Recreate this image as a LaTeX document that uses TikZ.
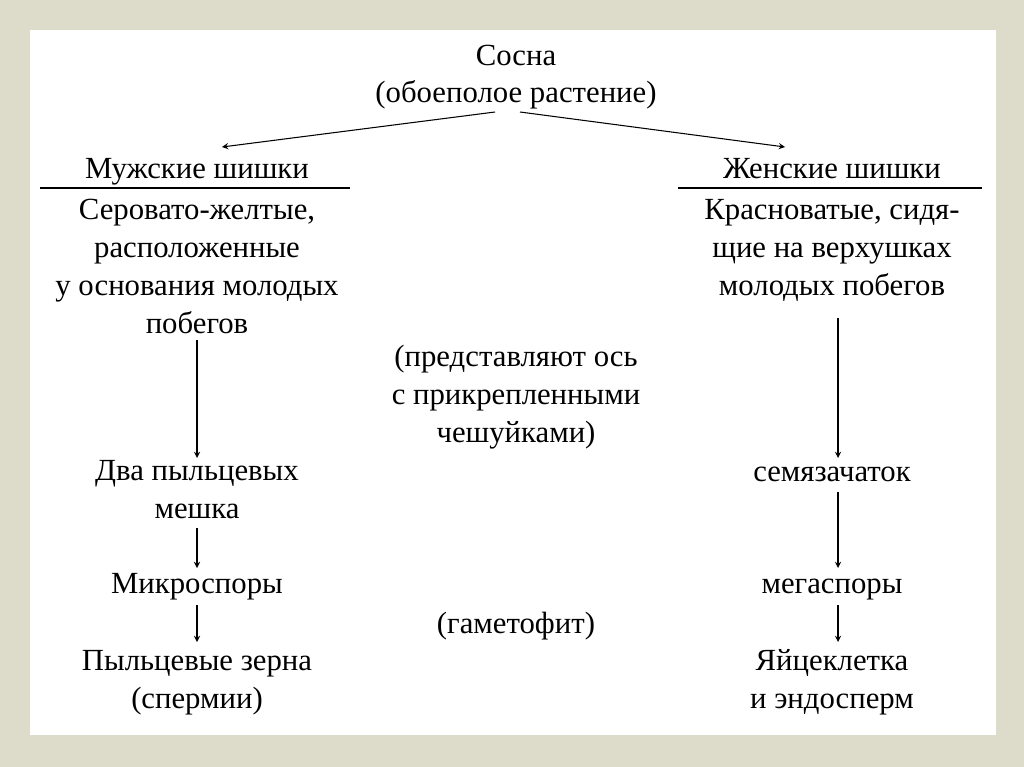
\documentclass[tikz,border=0pt]{standalone}
\usepackage{fontspec}
\setmainfont[FakeStretch=1.0]{Liberation Serif}
\definecolor{frame}{RGB}{221,219,201}
\begin{document}
\begin{tikzpicture}
    [x=0.02cm,y=-0.02cm,
    font=\fontsize{17.5}{21.5}\selectfont,
    txt/.style={align=center,inner sep=0pt,anchor=base},
    one/.style={txt},
    arc/.style={->,>=stealth,semithick},
    edge/.style={semithick}]

    \fill [frame] (0,0) rectangle (1024,767);
    \fill [white] (30,30) rectangle (996,735);

    % multi-line texts: placed at the baseline of their last line
    \node (pine) [txt] at (516,103) {Сосна\\(обоеполое растение)};

    \node (male) [one] at (197,178) {Мужские шишки};
    \node (maledesc) [txt] at (197,333) {Серовато-желтые,\\расположенные\\у основания молодых\\побегов};
    \node (sacs) [txt] at (197,518) {Два пыльцевых\\мешка};
    \node (micro) [one] at (197,593) {Микроспоры};
    \node (pollen) [txt] at (197,708) {Пыльцевые зерна\\(спермии)};

    \node (female) [one] at (832,178) {Женские шишки};
    \node (femdesc) [txt] at (832,295) {Красноватые, сидя-\\щие на верхушках\\молодых побегов};
    \node (ovule) [one] at (832,481) {семязачаток};
    \node (mega) [one] at (832,593) {мегаспоры};
    \node (egg) [txt] at (832,708) {Яйцеклетка\\и эндосперм};

    \node (axis) [txt] at (516,442) {(представляют ось\\с прикрепленными\\чешуйками)};
    \node (gameto) [one] at (516,633) {(гаметофит)};

    \coordinate (ml) at (40,188);
    \coordinate (mr) at (350,188);
    \coordinate (fl) at (678,188);
    \coordinate (fr) at (982,188);
    \draw [edge] (ml) -- (mr);
    \draw [edge] (fl) -- (fr);

    \draw [arc] (495,112) -- (222,147);
    \draw [arc] (520,112) -- (785,147);
    \draw [arc] (197,340) -- (197,458);
    \draw [arc] (197,528) -- (197,568);
    \draw [arc] (197,605) -- (197,642);
    \draw [arc] (838,318) -- (838,458);
    \draw [arc] (838,492) -- (838,568);
    \draw [arc] (838,605) -- (838,642);

\end{tikzpicture}
\end{document}
